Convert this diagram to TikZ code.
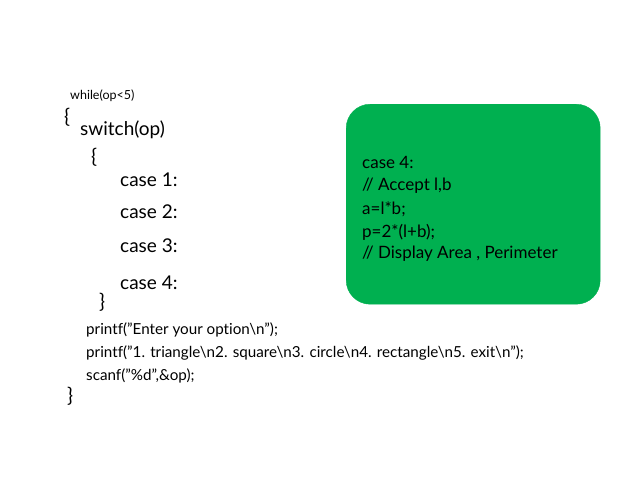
\documentclass[tikz,border=0pt]{standalone}
\usepackage{fontspec}
\setmainfont[Ligatures=NoCommon]{Lato}
\definecolor{boxgreen}{HTML}{00B050}
\newcommand{\qq}{\symbol{34}}
\begin{document}
\begin{tikzpicture}[x=1pt,y=-1pt,
  txt/.style={anchor=west,inner sep=0pt,text=black},
  small/.style={txt,font=\fontsize{12.5}{14}\selectfont},
  code/.style={txt,font=\fontsize{15.2}{17}\selectfont},
  boxt/.style={txt,font=\fontsize{17}{19}\selectfont},
  big/.style={txt,font=\fontsize{19}{21}\selectfont},
  brace/.style={txt,font=\fontsize{20}{24}\selectfont}]
\useasboundingbox (0,0) rectangle (638,493);
\fill[white] (0,0) rectangle (638,493);
\node[draw=boxgreen,fill=boxgreen,rounded corners=24pt,minimum width=254pt,minimum height=200pt,anchor=north west] (box) at (346,104) {};
\node[small] (wh) at (70,96) {while(op<5)};
\node[brace] (b1) at (64,117) {\{};
\node[big] (sw) at (80,130) {switch(op)};
\node[brace] (b2) at (91,157) {\{};
\node[big] (c1) at (120,180) {case 1:};
\node[big] (c2) at (120,212) {case 2:};
\node[big] (c3) at (120,246) {case 3:};
\node[big] (c4) at (120,283) {case 4:};
\node[brace] (b3) at (99,302) {\}};
\node[code] (p1) at (86,330) {printf(\qq Enter your option\textbackslash n\qq);};
\node[code] (p2) at (86,353) {printf(\qq 1. triangle\textbackslash n2. square\textbackslash n3. circle\textbackslash n4. rectangle\textbackslash n5. exit\textbackslash n\qq);};
\node[code] (p3) at (86,376) {scanf(\qq\%d\qq,\&op);};
\node[brace] (b4) at (67,396) {\}};
\node[boxt] (t1) at (362,162) {case 4:};
\node[boxt] (t2) at (362,186) {// Accept l,b};
\node[boxt] (t3) at (362,209) {a=l*b;};
\node[boxt] (t4) at (362,232) {p=2*(l+b);};
\node[boxt] (t5) at (362,254) {// Display Area , Perimeter};
\end{tikzpicture}
\end{document}
